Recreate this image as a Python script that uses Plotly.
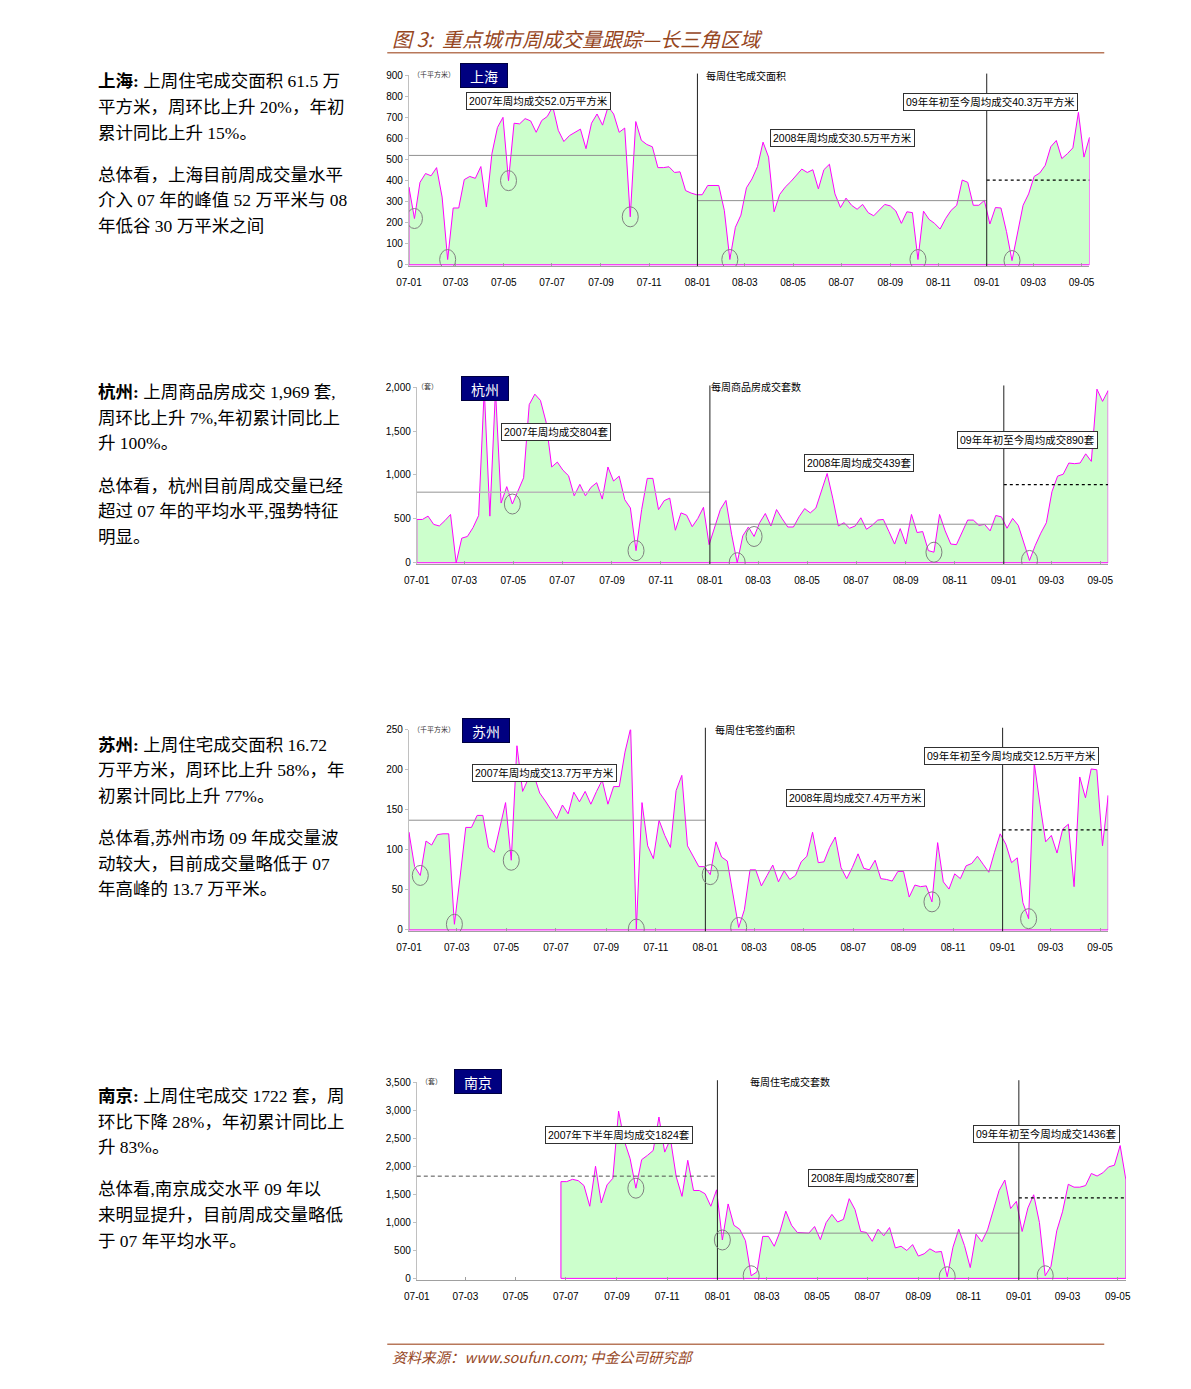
import plotly.graph_objects as go
import pandas as pd

W, H = 1191, 1389

# ---------------- data ----------------
START_DATE = '2007-01-01'
TICK_LABELS = ['07-01', '07-03', '07-05', '07-07', '07-09', '07-11', '08-01', '08-03',
               '08-05', '08-07', '08-09', '08-11', '09-01', '09-03', '09-05']
PERIOD_STARTS = ['2007-01-01', '2008-01-01', '2009-01-01']

# 上海 每周住宅成交面积 (千平方米)
SH_VALUES = [369, 220, 392, 434, 423, 462, 322, 25, 270, 270, 405, 420, 411, 467, 275, 528, 653, 701, 400, 673,
             670, 695, 684, 630, 686, 705, 752, 639, 586, 614, 631, 645, 552, 673, 717, 664, 752, 717, 630, 650,
             228, 681, 592, 572, 561, 462, 462, 466, 439, 442, 353, 341, 333,
             333, 377, 377, 377, 259, 25, 178, 236, 366, 408, 467, 583, 512, 252, 334, 369, 395, 427, 455, 439,
             452, 361, 452, 478, 337, 272, 317, 283, 264, 287, 248, 233, 259, 287, 280, 256, 197, 252, 248, 25,
             255, 216, 197, 170, 220, 259, 283, 403, 392, 283, 283, 306,
             194, 272, 270, 158, 20, 150, 283, 337, 420, 436, 473, 561, 591, 505, 528, 556, 725, 512, 606]
SH_AVG = [520, 305, 403]
SH_CIRCLES = [1, 7, 18, 40, 58, 92, 109]

# 杭州 每周商品房成交套数 (套)
HZ_VALUES = [493, 493, 531, 437, 419, 480, 550, 0, 280, 299, 400, 538, 1980, 531, 1970, 680, 867, 669, 811, 968,
             1802, 1921, 1850, 1603, 1091, 1147, 1054, 991, 763, 893, 763, 860, 912, 725, 1091, 931, 987, 718, 624,
             138, 605, 961, 961, 605, 707, 736, 370, 568, 542, 411, 505, 632,
             206, 419, 606, 710, 325, 0, 307, 407, 299, 456, 561, 419, 606, 501, 407, 407, 523, 617, 568, 624,
             811, 1017, 736, 419, 456, 393, 419, 512, 381, 426, 486, 493, 355, 213, 389, 213, 550, 344, 355, 138,
             120, 550, 363, 213, 206, 344, 486, 486, 426, 437, 363, 538, 523,
             393, 505, 426, 221, 26, 194, 336, 456, 811, 987, 1009, 1136, 1129, 1136, 1241, 1155, 1978, 1839, 1963]
HZ_AVG = [804, 439, 890]
HZ_CIRCLES = [17, 39, 57, 60, 92, 109]

# 苏州 每周住宅签约面积 (千平方米)
SZ_VALUES = [122, 79, 68, 111, 106, 119, 120, 120, 7, 66, 128, 128, 143, 143, 103, 97, 128, 159, 87, 230,
             173, 189, 193, 171, 161, 150, 139, 156, 145, 172, 160, 173, 157, 173, 187, 157, 179, 179, 222, 252,
             1, 159, 105, 89, 137, 118, 103, 174, 193, 105, 92, 79, 79,
             69, 110, 91, 86, 44, 3, 25, 75, 75, 55, 68, 81, 60, 74, 63, 68, 85, 92, 122, 84,
             85, 103, 116, 78, 64, 78, 95, 77, 75, 87, 64, 63, 61, 73, 73, 41, 56, 54, 55, 35,
             109, 60, 51, 70, 64, 80, 83, 92, 82, 72, 97, 120,
             107, 84, 90, 34, 14, 208, 157, 110, 118, 96, 126, 132, 54, 191, 165, 201, 200, 105, 168]
SZ_AVG = [137, 74, 125]
SZ_CIRCLES = [2, 8, 18, 40, 53, 58, 92, 109]

# 南京 每周住宅成交套数 (套) — no data before July 2007
NJ_VALUES = [None] * 25 + [1726, 1726, 1767, 1744, 1656, 1287, 2001, 1346, 1668, 1785, 2984, 2450, 2136, 1609,
                           2118, 2194, 2282, 2879, 2253, 2487, 1814, 1463, 2107, 1568, 1568, 1510, 1287, 1580,
             685, 1328, 948, 878, 673, 47, 117, 749, 749, 573, 837, 1200, 948, 819, 819, 807, 925, 690, 995, 1141,
             1006, 1053, 1422, 1229, 837, 819, 661, 878, 761, 907, 544, 573, 497, 603, 398, 439, 527, 468, 480, 29,
             556, 878, 585, 193, 790, 655, 866, 1229, 1568, 1755, 1246, 1375,
             837, 1258, 1492, 995, 47, 216, 848, 1188, 1679, 1627, 1627, 1656, 1872, 1826, 1884, 1989, 2019, 2370, 1755]
NJ_AVG = [1824, 807, 1436]
NJ_CIRCLES = [38, 53, 58, 92, 109]

# ---------------- styling ----------------
NARROW = 'Liberation Sans Narrow, Arial Narrow, Liberation Sans, Noto Sans CJK SC'
SERIF = 'Liberation Serif, Noto Sans CJK SC'
CJK = 'Noto Sans CJK SC'
BROWN = '#96461e'
RULE = '#b8785a'
FILL = '#ccffcc'
LINE = '#ff00ff'


def px(x):
    return x / W


def py(y):
    return 1 - y / H


def note(x, y, text, xanchor='center', **kw):
    d = dict(x=px(x), y=py(y), xref='paper', yref='paper', text=text, showarrow=False,
             xanchor=xanchor, yanchor='middle')
    d.update(kw)
    return d


TICK_DATES = ['20' + t + '-01' for t in TICK_LABELS]

charts = [
    dict(values=SH_VALUES, avg=SH_AVG, circles=SH_CIRCLES, ymax=900, dtick=100, dx=(402, 1093), dy=(70, 262),
         dash07=('solid', '#909090', 1), unit='（千平方米）', unit_xy=(427, 68), city='上海', city_xy=(478, 70),
         series_name='每周住宅成交面积', name_xy=(702, 70),
         boxes=[('2007年周均成交52.0万平方米', 534, 96), ('2008年周均成交30.5万平方米', 842, 133),
                ('09年年初至今周均成交40.3万平方米', 992, 97)]),
    dict(values=HZ_VALUES, avg=HZ_AVG, circles=HZ_CIRCLES, ymax=2000, dtick=500, dx=(410, 1112), dy=(384, 562),
         dash07=('solid', '#b8b8b8', 1.6), unit='（套）', unit_xy=(421, 383), city='杭州', city_xy=(479, 385),
         series_name='每周商品房成交套数', name_xy=(707, 383),
         boxes=[('2007年周均成交804套', 551, 429), ('2008年周均成交439套', 859, 460),
                ('09年年初至今周均成交890套', 1030, 437)]),
    dict(values=SZ_VALUES, avg=SZ_AVG, circles=SZ_CIRCLES, ymax=250, dtick=50, dx=(402, 1112), dy=(729, 932),
         dash07=('solid', '#909090', 1), unit='（千平方米）', unit_xy=(427, 728), city='苏州', city_xy=(480, 730),
         series_name='每周住宅签约面积', name_xy=(711, 729),
         boxes=[('2007年周均成交13.7万平方米', 540, 773), ('2008年周均成交7.4万平方米', 855, 798),
                ('09年年初至今周均成交12.5万平方米', 1014, 755)]),
    dict(values=NJ_VALUES, avg=NJ_AVG, circles=NJ_CIRCLES, ymax=3500, dtick=500, dx=(410, 1130), dy=(1084, 1283),
         dash07=('4px,3px', '#505050', 1), unit='（套）', unit_xy=(425, 1083), city='南京', city_xy=(472, 1083),
         series_name='每周住宅成交套数', name_xy=(746, 1083),
         boxes=[('2007年下半年周均成交1824套', 615, 1137), ('2008年周均成交807套', 863, 1180),
                ('09年年初至今周均成交1436套', 1049, 1136)]),
]

fig = go.Figure()
shapes = []
annotations = []
layout = {}

for k, c in enumerate(charts, start=1):
    xa = 'x' if k == 1 else f'x{k}'
    ya = 'y' if k == 1 else f'y{k}'
    sfx = '' if k == 1 else str(k)
    dates = pd.date_range(START_DATE, periods=len(c['values']), freq='7D')
    s = pd.Series(c['values'], index=dates, dtype='float').dropna()
    poly_x = [s.index[0]] + list(s.index) + [s.index[-1], s.index[0]]
    poly_y = [0] + list(s.values) + [0, 0]
    fig.add_trace(go.Scatter(x=poly_x, y=poly_y, mode='lines', fill='toself', fillcolor=FILL,
                             line=dict(color=LINE, width=1), xaxis=xa, yaxis=ya,
                             hoverinfo='skip', showlegend=False))
    end_date = dates[-1]
    ymin = -c['ymax'] * 0.007
    layout['xaxis' + sfx] = dict(domain=[px(c['dx'][0]), px(c['dx'][1])], anchor=ya, type='date',
                                 range=[START_DATE, end_date], tickvals=TICK_DATES, ticktext=TICK_LABELS,
                                 showgrid=False, zeroline=False, showline=True, linecolor='#a0a0a0',
                                 ticks='inside', ticklen=3, tickcolor='#a0a0a0', ticklabelstandoff=7,
                                 tickfont=dict(size=10, family=NARROW, color='black'))
    layout['yaxis' + sfx] = dict(domain=[py(c['dy'][1]), py(c['dy'][0])], anchor=xa,
                                 range=[ymin, c['ymax']], tick0=0, dtick=c['dtick'], tickformat=',d',
                                 showgrid=False, zeroline=False, showline=True, linecolor='#c0c0c0',
                                 ticks='outside', ticklen=3, tickcolor='#c0c0c0',
                                 tickfont=dict(size=10, family=NARROW, color='black'))
    # average lines per period
    bounds = PERIOD_STARTS + [end_date]
    styles = [c['dash07'], ('solid', '#909090', 1), ('dot', '#000000', 1.3)]
    for j in range(3):
        dash, col, wid = styles[j]
        shapes.append(dict(type='line', xref=xa, yref=ya, x0=bounds[j], x1=bounds[j + 1],
                           y0=c['avg'][j], y1=c['avg'][j], line=dict(color=col, width=wid, dash=dash)))
    # year separators
    for d in PERIOD_STARTS[1:]:
        shapes.append(dict(type='line', xref=xa, yref=ya + ' domain', x0=d, x1=d, y0=0, y1=1.01,
                           line=dict(color='#202020', width=1)))
    # circles around dips
    for idx in c['circles']:
        shapes.append(dict(type='circle', xref=xa, yref=ya, xsizemode='pixel', ysizemode='pixel',
                           xanchor=dates[idx], yanchor=c['values'][idx], x0=-8, x1=8, y0=-10, y1=10,
                           line=dict(color='#808080', width=1)))
    # text boxes
    for text, cx, cy in c['boxes']:
        annotations.append(note(cx, cy, text, bgcolor='white', bordercolor='#303030', borderwidth=1,
                                borderpad=2, font=dict(size=10.5, family=NARROW, color='black')))
    annotations.append(note(c['city_xy'][0], c['city_xy'][1], c['city'], bgcolor='#000080',
                            bordercolor='#000040', borderwidth=1, width=44, height=21,
                            font=dict(size=14, family=CJK, color='white')))
    annotations.append(note(c['unit_xy'][0], c['unit_xy'][1], c['unit'],
                            font=dict(size=7, family=CJK, color='#333333')))
    annotations.append(note(c['name_xy'][0], c['name_xy'][1], c['series_name'], xanchor='left',
                            font=dict(size=10, family=CJK, color='black')))

# left commentary
TEXT_BLOCKS = [
    (76, ['<b>上海:</b> 上周住宅成交面积 61.5 万', '平方米，周环比上升 20%，年初', '累计同比上升 15%。'],
     170, ['总体看，上海目前周成交量水平', '介入 07 年的峰值 52 万平米与 08', '年低谷 30 万平米之间']),
    (389, ['<b>杭州:</b> 上周商品房成交 1,969 套,', '周环比上升 7%,年初累计同比上', '升 100%。'],
     483, ['总体看，杭州目前周成交量已经', '超过 07 年的平均水平,强势特征', '明显。']),
    (744, ['<b>苏州:</b> 上周住宅成交面积 16.72', '万平方米，周环比上升 58%，年', '初累计同比上升 77%。'],
     838, ['总体看,苏州市场 09 年成交量波', '动较大，目前成交量略低于 07', '年高峰的 13.7 万平米。']),
    (1098, ['<b>南京:</b> 上周住宅成交 1722 套，周', '环比下降 28%，年初累计同比上', '升 83%。'],
     1192, ['总体看,南京成交水平 09 年以', '来明显提升，目前周成交量略低', '于 07 年平均水平。']),
]
for y1, lines1, y2, lines2 in TEXT_BLOCKS:
    for y0, lines in ((y1, lines1), (y2, lines2)):
        for i, t in enumerate(lines):
            annotations.append(note(84, y0 + i * 25.8, t, xanchor='left',
                                    font=dict(size=17.5, family=SERIF, color='black')))

# title, source and rules
annotations.append(note(383, 33, '<i>图 3:  重点城市周成交量跟踪—长三角区域</i>', xanchor='left',
                        font=dict(size=20, family=CJK, color=BROWN)))
annotations.append(note(383, 1360, '<i>资料来源：www.soufun.com; 中金公司研究部</i>', xanchor='left',
                        font=dict(size=14.5, family=CJK, color=BROWN)))
shapes.append(dict(type='line', xref='paper', yref='paper', x0=px(380), x1=px(1108), y0=py(47), y1=py(47),
                   line=dict(color=RULE, width=1.5)))
shapes.append(dict(type='line', xref='paper', yref='paper', x0=px(380), x1=px(1108), y0=py(1348), y1=py(1348),
                   line=dict(color=RULE, width=1.5)))

fig.update_layout(width=W, height=H, margin=dict(l=0, r=0, t=0, b=0), paper_bgcolor='white',
                  plot_bgcolor='white', shapes=shapes, annotations=annotations, showlegend=False, **layout)
fig.write_html('out.html')
